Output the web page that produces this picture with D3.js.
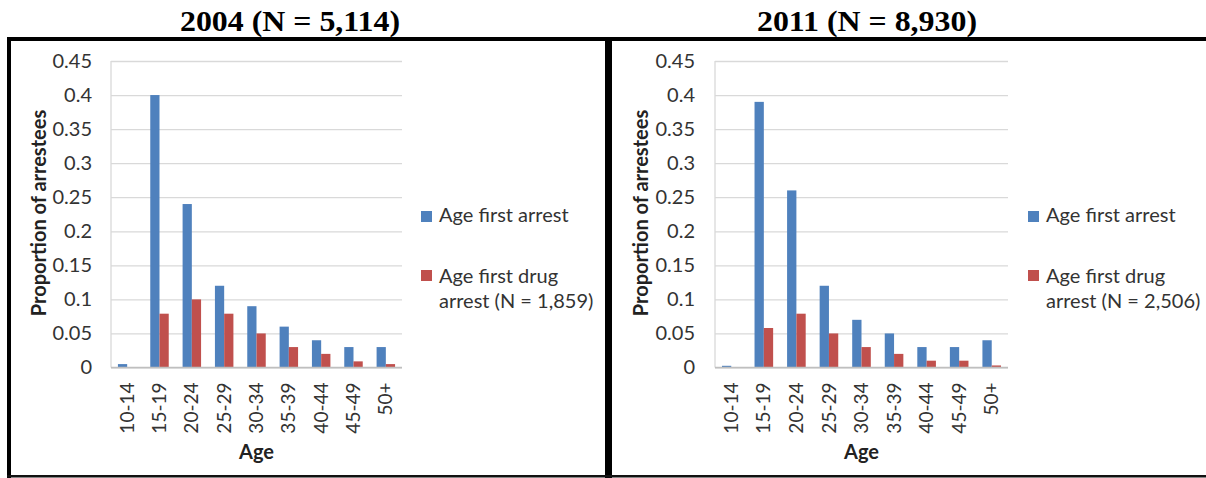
<!DOCTYPE html>
<html>
<head>
<meta charset="utf-8">
<script src="https://cdn.jsdelivr.net/npm/d3@7"></script>
<style>
  html, body { margin: 0; padding: 0; background: #fff; }
  svg { display: block; }
</style>
</head>
<body>
<svg id="chart" width="1206" height="478"></svg>
<script>
// ---------- data ----------
const categories = ["10-14", "15-19", "20-24", "25-29", "30-34", "35-39", "40-44", "45-49", "50+"];
const firstArrest2004 = [0.005, 0.40, 0.24, 0.12, 0.09, 0.06, 0.04, 0.03, 0.03];
const firstDrug2004   = [0, 0.079, 0.10, 0.079, 0.05, 0.03, 0.02, 0.009, 0.005];
const firstArrest2011 = [0.0025, 0.39, 0.26, 0.12, 0.07, 0.05, 0.03, 0.03, 0.04];
const firstDrug2011   = [0, 0.058, 0.079, 0.05, 0.03, 0.02, 0.01, 0.01, 0.003];
const yTicks = [0, 0.05, 0.1, 0.15, 0.2, 0.25, 0.3, 0.35, 0.4, 0.45];
const yTickLabels = ["0", "0.05", "0.1", "0.15", "0.2", "0.25", "0.3", "0.35", "0.4", "0.45"];
const panelTitles = ["2004 (N = 5,114)", "2011 (N = 8,930)"];
const seriesNames = ["Age first arrest", "Age first drug"];
const drugLegendSecondLine = ["arrest (N = 1,859)", "arrest (N = 2,506)"];
const yAxisTitle = "Proportion of arrestees";
const xAxisTitle = "Age";

const colors = ["#4F81BD", "#C0504D"];
const FONT = "Lato, 'Open Sans', sans-serif";
const TEXT_COLOR = "#333333";
const svg = d3.select("#chart");

// ---------- frames ----------
const frame = svg.append("g");
frame.append("rect").attr("x", 7).attr("y", 37).attr("width", 1199).attr("height", 4).attr("fill", "#000");
frame.append("rect").attr("x", 7).attr("y", 37).attr("width", 4).attr("height", 441).attr("fill", "#000");
frame.append("rect").attr("x", 605).attr("y", 37).attr("width", 7).attr("height", 441).attr("fill", "#000");
frame.append("rect").attr("x", 7).attr("y", 475).attr("width", 1199).attr("height", 2.5).attr("fill", "#111");

function drawPanel(cfg) {
  const g = svg.append("g");
  const x0 = d3.scaleBand().domain(categories).range([cfg.left, cfg.right]).paddingInner(0).paddingOuter(0);
  const inner = ["a", "b"];
  const bw = x0.bandwidth();
  const barW = bw / 3.5;
  const x1 = d3.scaleBand().domain(inner).range([0, barW * 2]);
  const y = d3.scaleLinear().domain([0, 0.45]).range([367.5, 61]);

  // gridlines
  const grid = d3.axisLeft(y).tickValues(yTicks).tickSize(-(cfg.right - cfg.left)).tickFormat("");
  const gg = g.append("g").attr("transform", `translate(${cfg.left},0)`).call(grid);
  gg.select(".domain").remove();
  gg.selectAll(".tick line").attr("stroke", "#d9d9d9").attr("stroke-width", 1.3);

  // y tick labels
  const ya = d3.axisLeft(y).tickValues(yTicks).tickSize(0).tickPadding(0)
    .tickFormat((d, i) => yTickLabels[i]);
  const yg = g.append("g").attr("transform", `translate(${cfg.tickRight},0)`).call(ya);
  yg.select(".domain").remove();
  yg.selectAll("text").attr("font-family", FONT).attr("font-size", 20).attr("fill", TEXT_COLOR);

  // vertical axis line
  g.append("line").attr("x1", cfg.left).attr("x2", cfg.left).attr("y1", y(0.45)).attr("y2", y(0))
    .attr("stroke", "#d9d9d9").attr("stroke-width", 1.3);

  // bars
  const seriesData = [cfg.first, cfg.drug];
  seriesData.forEach((vals, si) => {
    g.append("g").selectAll("rect").data(vals).enter().append("rect")
      .attr("x", (d, i) => x0(categories[i]) + (bw - barW * 2) / 2 + x1(inner[si]))
      .attr("width", x1.bandwidth())
      .attr("y", d => y(d))
      .attr("height", d => y(0) - y(d))
      .attr("fill", colors[si]);
  });

  // baseline
  g.append("line").attr("x1", cfg.left).attr("x2", cfg.right).attr("y1", y(0)).attr("y2", y(0))
    .attr("stroke", "#bfbfbf").attr("stroke-width", 1.3);

  // x labels (rotated)
  const xa = d3.axisBottom(x0).tickSize(0).tickPadding(0);
  const xg = g.append("g").attr("transform", `translate(0,${y(0)})`).call(xa);
  xg.select(".domain").remove();
  xg.selectAll("text")
    .attr("font-family", FONT).attr("font-size", 19).attr("fill", TEXT_COLOR)
    .attr("transform", "rotate(-90)")
    .attr("text-anchor", "end")
    .attr("x", -15).attr("y", 0).attr("dy", "0.35em");

  // axis titles
  g.append("text").attr("transform", `translate(${cfg.yTitleX},213) rotate(-90)`)
    .attr("text-anchor", "middle").attr("dy", "0.35em")
    .attr("font-family", FONT).attr("font-weight", "bold").attr("font-size", 20).attr("fill", "#222")
    .text(yAxisTitle);
  g.append("text").attr("x", (cfg.left + cfg.right) / 2).attr("y", 459)
    .attr("text-anchor", "middle")
    .attr("font-family", FONT).attr("font-weight", "bold").attr("font-size", 20).attr("fill", "#222")
    .text(xAxisTitle);

  // panel title
  g.append("text").attr("x", cfg.titleX).attr("y", 31)
    .attr("text-anchor", "middle")
    .attr("font-family", "'Liberation Serif', 'Times New Roman', serif").attr("font-weight", "bold")
    .attr("font-size", 30).attr("fill", "#000")
    .attr("textLength", 220).attr("lengthAdjust", "spacingAndGlyphs")
    .text(cfg.title);

  // legend
  const lg = g.append("g").attr("font-family", FONT).attr("font-size", 20).attr("fill", TEXT_COLOR);
  lg.append("rect").attr("x", cfg.legendX).attr("y", 211).attr("width", 11).attr("height", 11).attr("fill", colors[0]);
  lg.append("text").attr("x", cfg.legendX + 18).attr("y", 222).text(seriesNames[0]);
  lg.append("rect").attr("x", cfg.legendX).attr("y", 270).attr("width", 11).attr("height", 11).attr("fill", colors[1]);
  lg.append("text").attr("x", cfg.legendX + 18).attr("y", 283).text(seriesNames[1]);
  lg.append("text").attr("x", cfg.legendX + 18).attr("y", 308).text(cfg.drugLine2);
}

drawPanel({
  left: 111, right: 402, tickRight: 92, yTitleX: 39, legendX: 421, titleX: 290,
  first: firstArrest2004, drug: firstDrug2004, title: panelTitles[0], drugLine2: drugLegendSecondLine[0]
});
drawPanel({
  left: 715, right: 1008, tickRight: 695, yTitleX: 641, legendX: 1028, titleX: 867,
  first: firstArrest2011, drug: firstDrug2011, title: panelTitles[1], drugLine2: drugLegendSecondLine[1]
});
</script>
</body>
</html>
